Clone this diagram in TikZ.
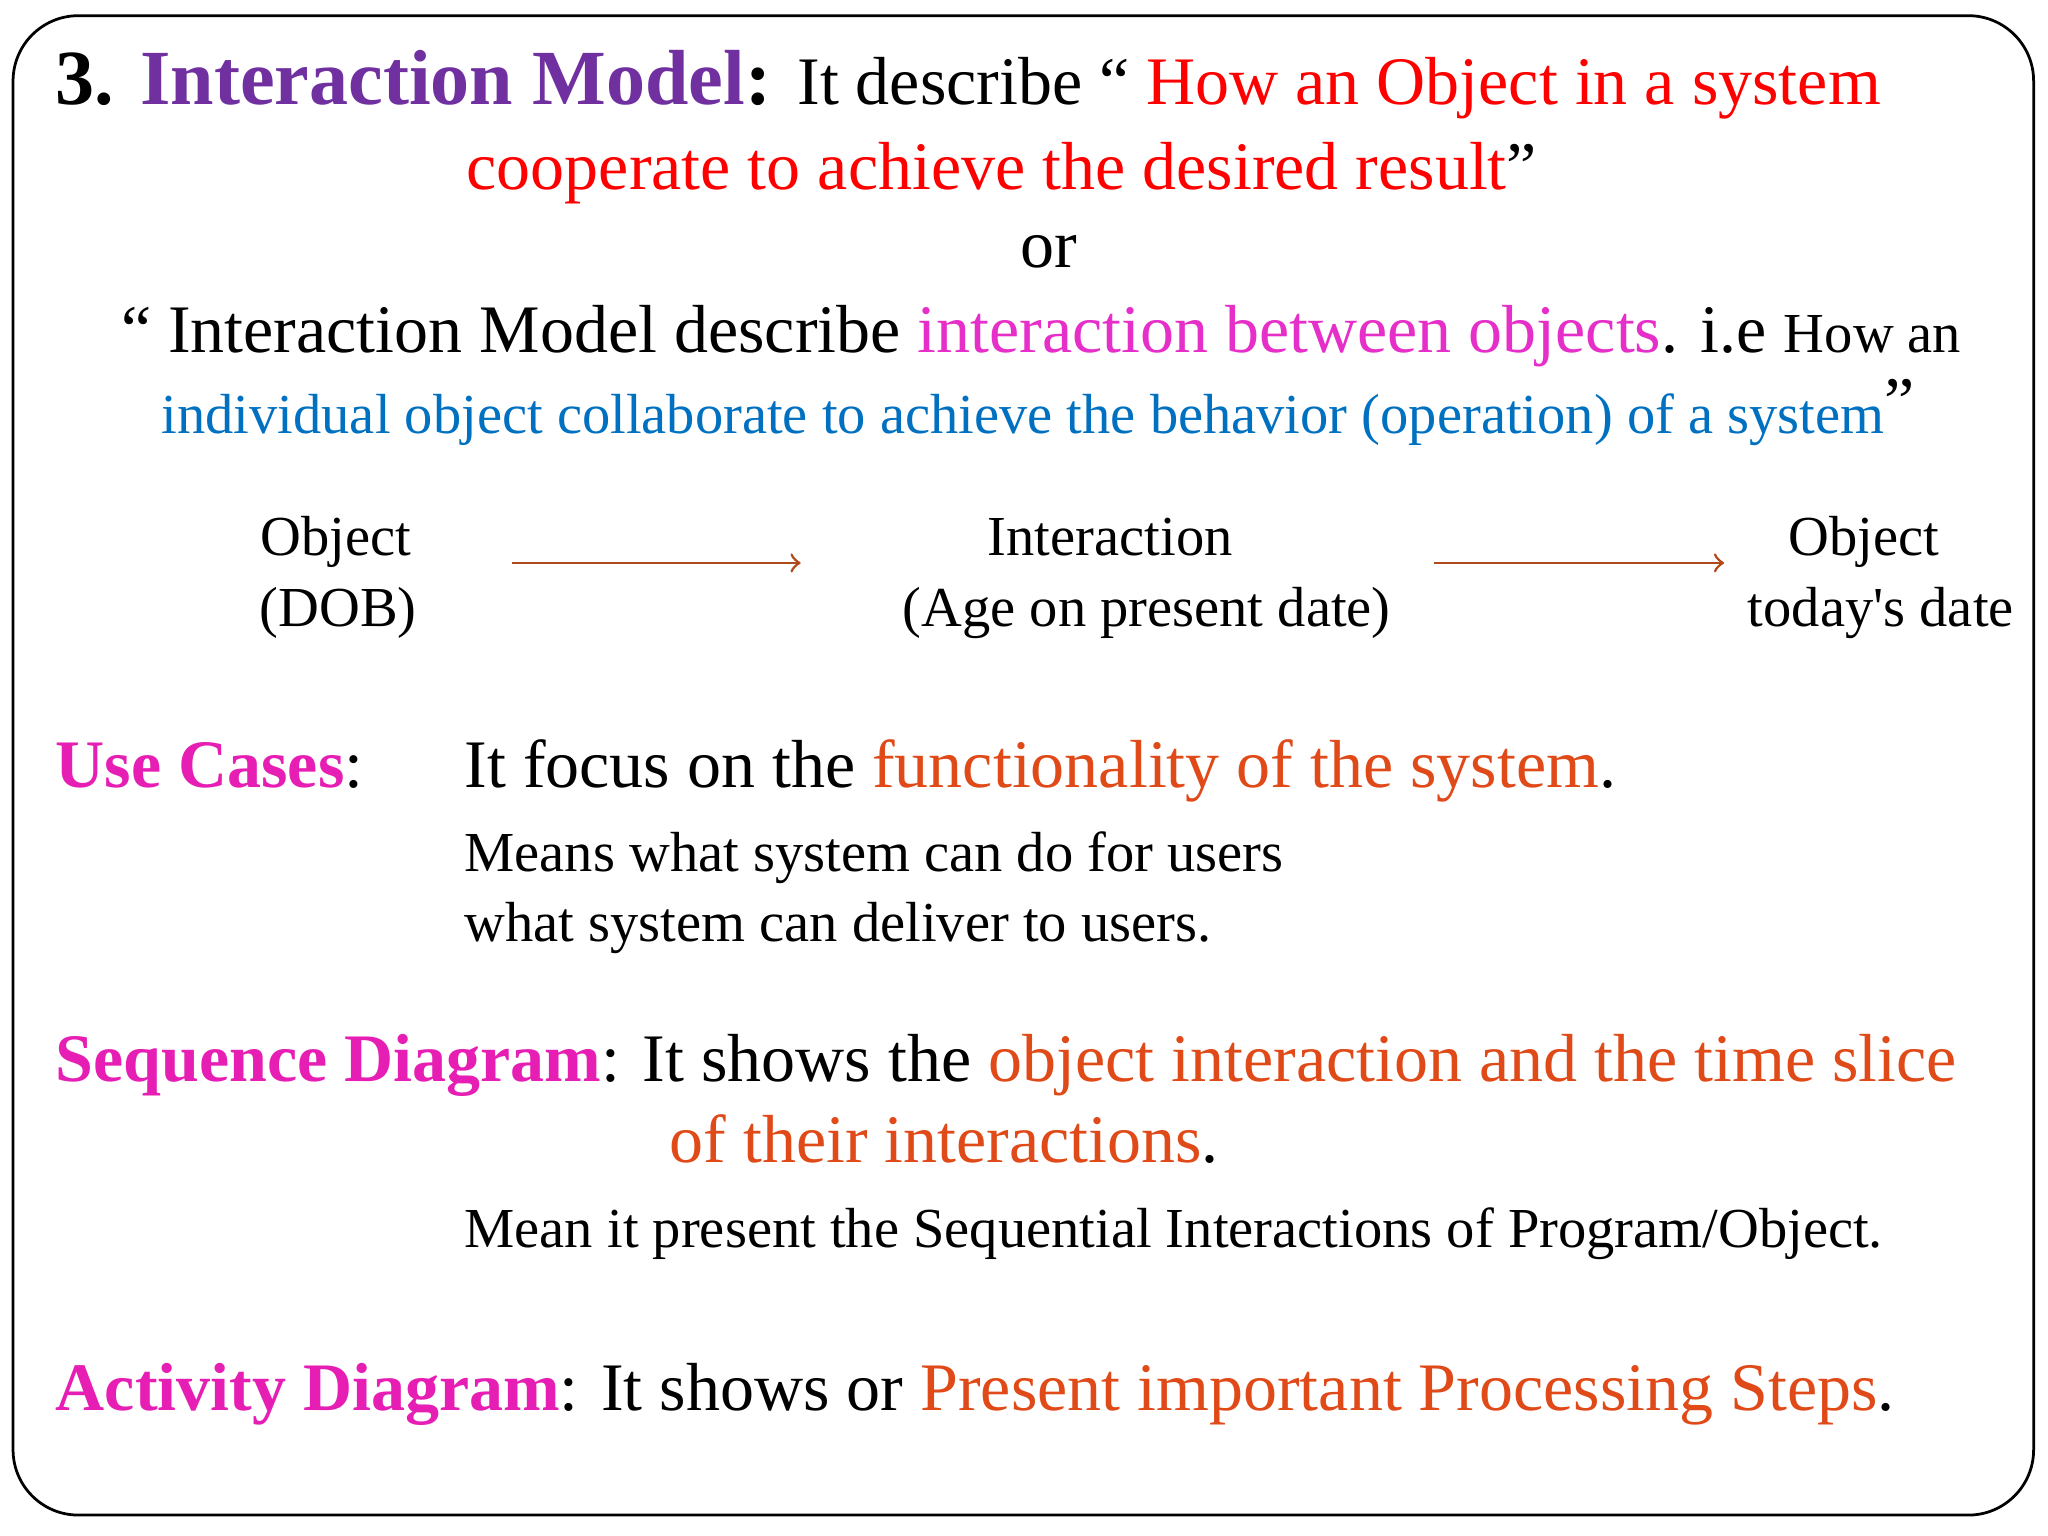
\documentclass[tikz,border=0pt]{standalone}
\usepackage{fontspec}
\setmainfont{Liberation Serif}
\definecolor{tpurple}{HTML}{7030A0}
\definecolor{tred}{HTML}{FF0000}
\definecolor{tmag}{HTML}{E62EC8}
\definecolor{hmag}{HTML}{E61EB4}
\definecolor{tblue}{HTML}{0070C0}
\definecolor{torange}{HTML}{E04A18}
\definecolor{arr}{HTML}{B04A1A}
\tikzset{
  big/.style={inner sep=0pt,anchor=base west,font=\fontsize{14.8}{16}\selectfont},
  bigc/.style={inner sep=0pt,anchor=base,font=\fontsize{14.8}{16}\selectfont},
  med/.style={inner sep=0pt,anchor=base west,font=\fontsize{12.3}{13}\selectfont},
  medc/.style={inner sep=0pt,anchor=base,font=\fontsize{12.3}{13}\selectfont},
  flow/.style={->,draw=arr,line width=0.6pt}
}
\begin{document}
\begin{tikzpicture}[x=0.01cm,y=-0.01cm]
\useasboundingbox (0,0) rectangle (1568,1176);
\draw[line width=0.6pt,rounded corners=0.5cm] (10,12) rectangle (1557,1160);
\node[big] (t1) at (42,80) {\fontsize{17}{18}\selectfont\textbf{3. \textcolor{tpurple}{Interaction Model}:} \fontsize{14.8}{16}\selectfont It describe “ \textcolor{tred}{How an Object in a system}};
\node[bigc] (t2) at (767,145) {\textcolor{tred}{cooperate to achieve the desired result}”};
\node[bigc] (t3) at (803,205) {or};
\node[big] (t4) at (92,270) {“ Interaction Model describe \textcolor{tmag}{interaction between objects}. i.e {\fontsize{12.3}{13}\selectfont How an}};
\node[med] (t5) at (123,332) {\textcolor{tblue}{individual object collaborate to achieve the behavior (operation) of a system}\raisebox{2pt}{\fontsize{14.8}{16}\selectfont ”}};
\node[medc] (o1a) at (257,425) {Object};
\node[medc] (o1b) at (259,480) {(DOB)};
\node[medc] (ia) at (850,425) {Interaction};
\node[medc] (ib) at (878,480) {(Age on present date)};
\node[medc] (o2a) at (1427,425) {Object};
\node[medc] (o2b) at (1440,480) {today\textquotesingle s date};
\coordinate (a1s) at (392,431); \coordinate (a1e) at (613,431);
\coordinate (a2s) at (1098,431); \coordinate (a2e) at (1320,431);
\draw[flow] (a1s) -- (a1e);
\draw[flow] (a2s) -- (a2e);
\node[big] (u1) at (42,603) {\textbf{\textcolor{hmag}{Use Cases}}:};
\node[big] (u2) at (355,603) {It focus on the \textcolor{torange}{functionality of the system}.};
\node[med] (u3) at (355,667) {Means what system can do for users};
\node[med] (u4) at (355,721) {what system can deliver to users.};
\node[big] (s1) at (42,828) {\textbf{\textcolor{hmag}{Sequence Diagram}}: It shows the \textcolor{torange}{object interaction and the time slice}};
\node[big] (s2) at (512,890) {\textcolor{torange}{of their interactions}.};
\node[med] (s3) at (355,955) {Mean it present the Sequential Interactions of Program/Object.};
\node[big] (ad) at (42,1080) {\textbf{\textcolor{hmag}{Activity Diagram}}: It shows or \textcolor{torange}{Present important Processing Steps}.};
\end{tikzpicture}
\end{document}
